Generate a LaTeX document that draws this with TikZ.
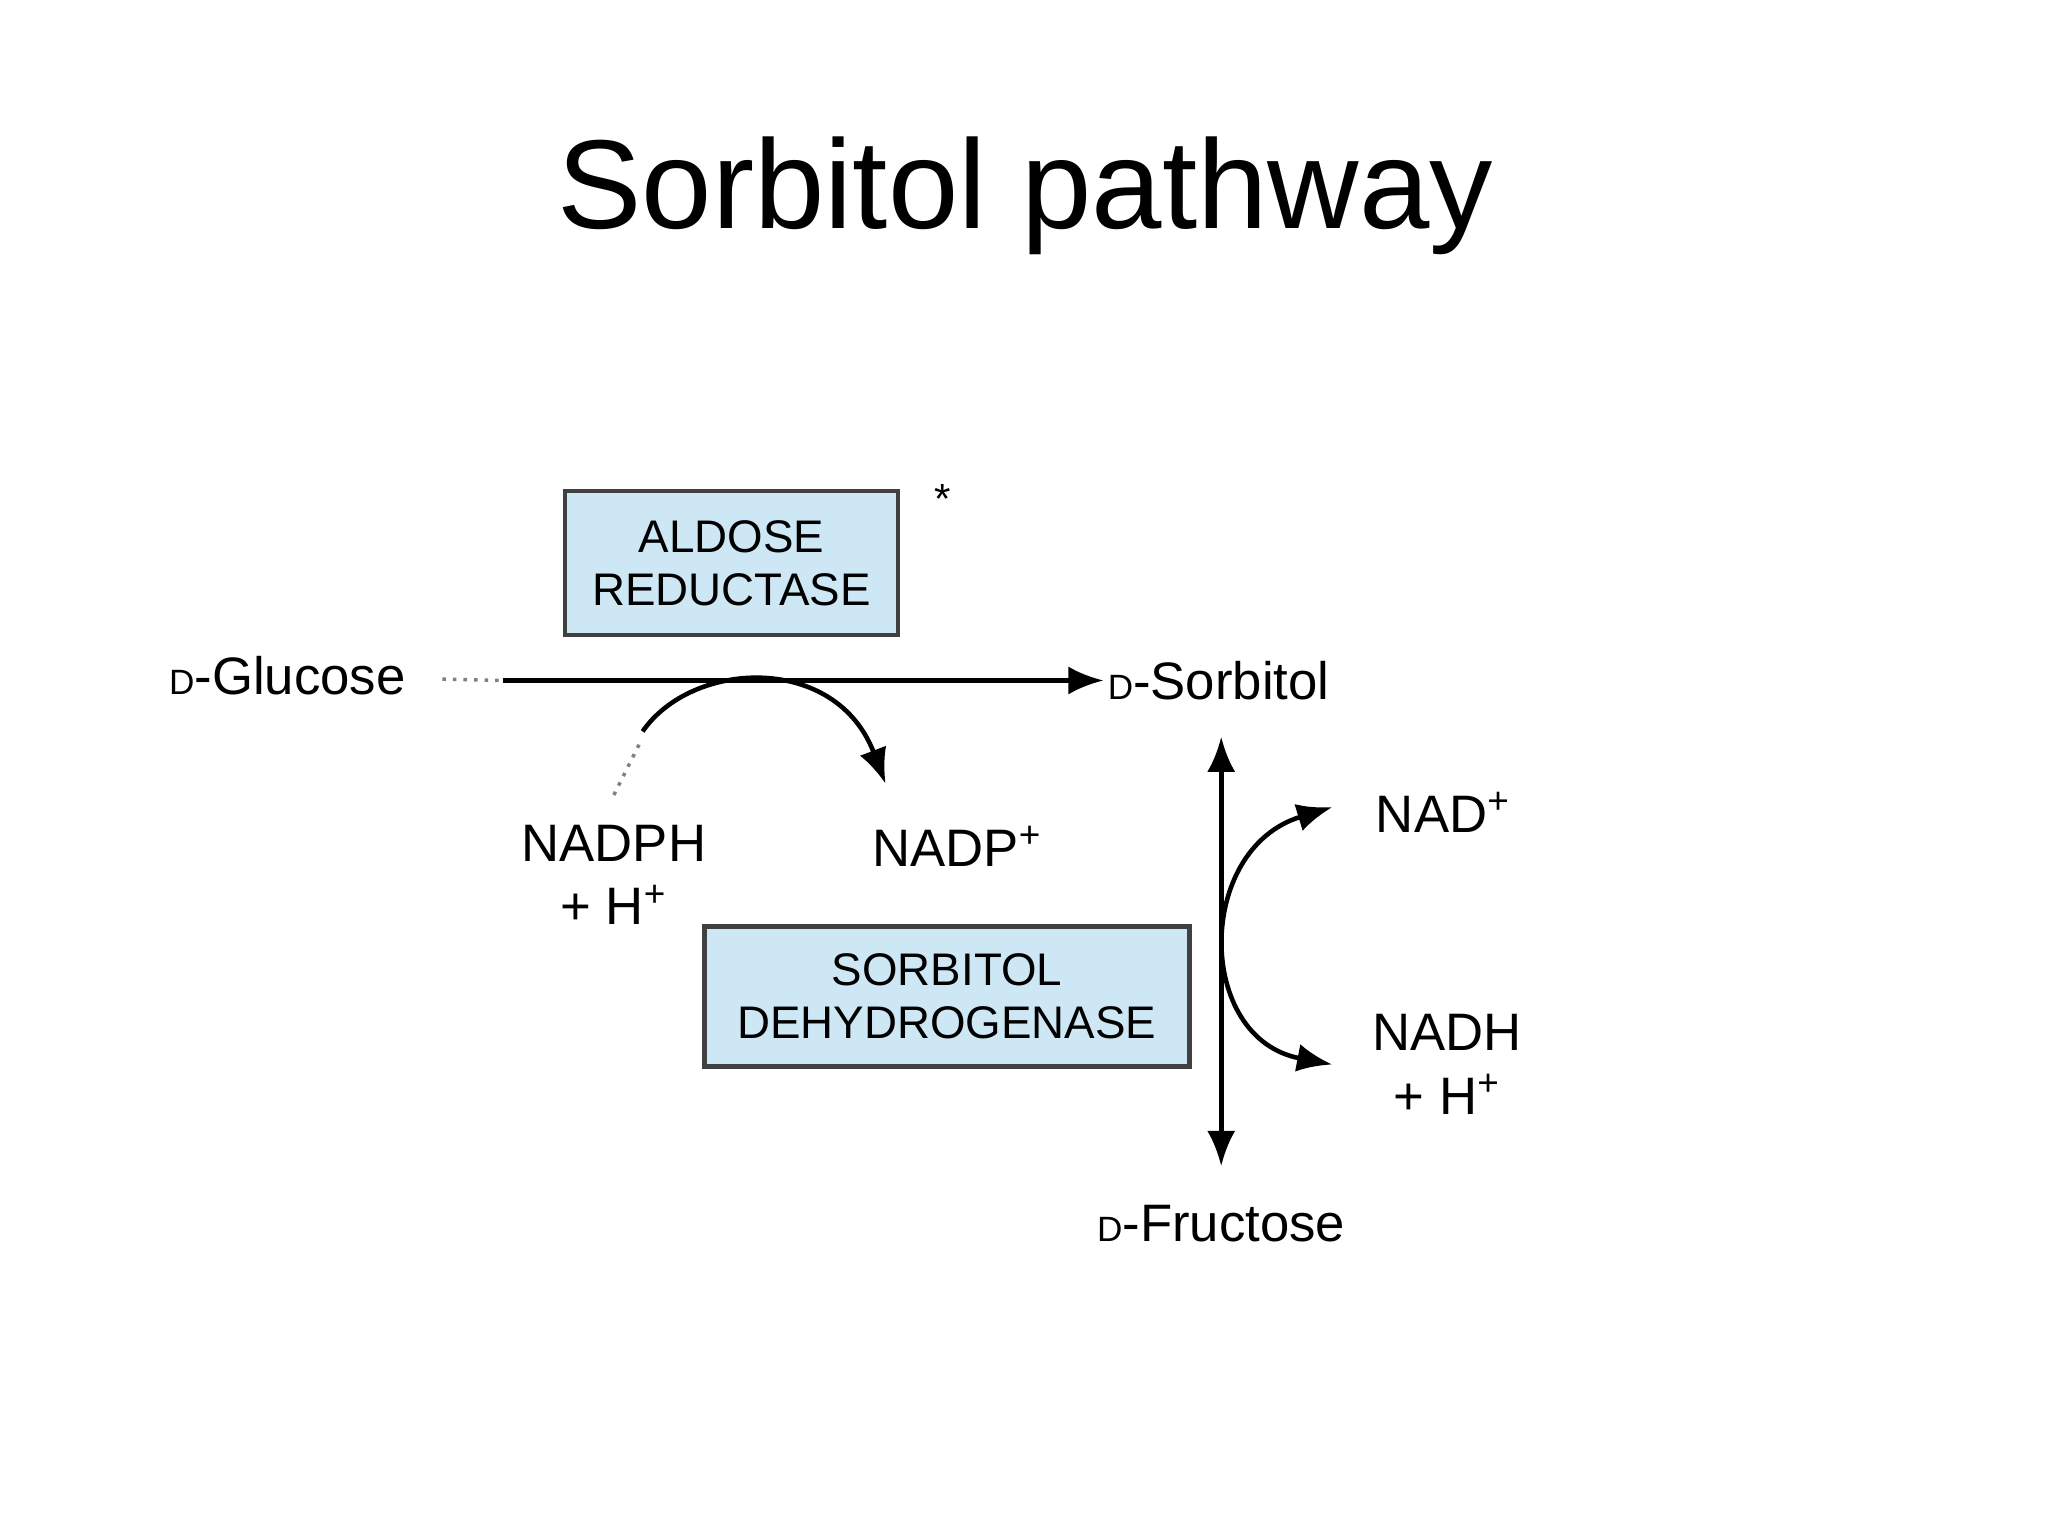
\documentclass[tikz,border=0pt]{standalone}
\usepackage{fontspec}
\setmainfont{Liberation Sans}
\usetikzlibrary{arrows.meta}
\definecolor{boxblue}{HTML}{CDE7F5}
\tikzset{
  enzyme/.style={draw=black!75,line width=1.2pt,fill=boxblue,align=center,
    font=\fontsize{13}{15}\selectfont,inner sep=0pt},
  chem/.style={font=\fontsize{15}{18}\selectfont,inner sep=1pt,align=center},
  react/.style={line width=1.3pt,-{Latex[length=10pt,width=8pt]}},
}
\newcommand{\dform}{{\fontsize{10}{10}\selectfont D}}
\newcommand{\plus}{\textsuperscript{+}}
\begin{document}
\begin{tikzpicture}[x=0.013061cm,y=-0.013061cm]
    \useasboundingbox (0,0) rectangle (1568,1176);
    % title
    \node (title) at (785,150) {\fontsize{36}{40}\selectfont Sorbitol pathway};
    % enzymes
    \node [enzyme,minimum width=3.33cm,minimum height=1.44cm] (ar) at (560,431) {ALDOSE\\REDUCTASE};
    \node at (722,382) {\fontsize{12}{12}\selectfont *};
    \node [enzyme,minimum width=4.85cm,minimum height=1.40cm] (sdh) at (725,763) {SORBITOL\\DEHYDROGENASE};
    % metabolites
    \node [chem] (glc) at (220,517) {\dform-Glucose};
    \node [chem] (sor) at (933,521) {\dform-Sorbitol};
    \node [chem] (fru) at (935,937) {\dform-Fructose};
    \node [chem] (nadph) at (470,670) {NADPH\\+ H\plus};
    \node [chem] (nadp) at (733,648) {NADP\plus};
    \node [chem] (nad) at (1105,622) {NAD\plus};
    \node [chem] (nadh) at (1108,815) {NADH\\+ H\plus};
    % glucose to sorbitol
    \coordinate (g1) at (385,521);
    \draw [line width=1pt,dotted,gray] (glc.east) ++(25,3) -- (g1);
    \draw [react] (g1) -- (sor.west);
    \draw [line width=1pt,dotted,gray] (nadph.north) ++(0,-20) -- ++(20,-40);
    \draw [react] (492,560) .. controls (530,505) and (640,500) .. (678,600);
    % sorbitol to fructose
    \draw [line width=1.3pt,{Latex[length=10pt,width=8pt]}-{Latex[length=10pt,width=8pt]}]
      (sor.south) ++(2,25) -- ([yshift=10pt]fru.north);
    \draw [react,{Latex[length=10pt,width=8pt]}-{Latex[length=10pt,width=8pt]}]
      (1020,618) .. controls (915,650) and (915,795) .. (1020,815);
\end{tikzpicture}
\end{document}
